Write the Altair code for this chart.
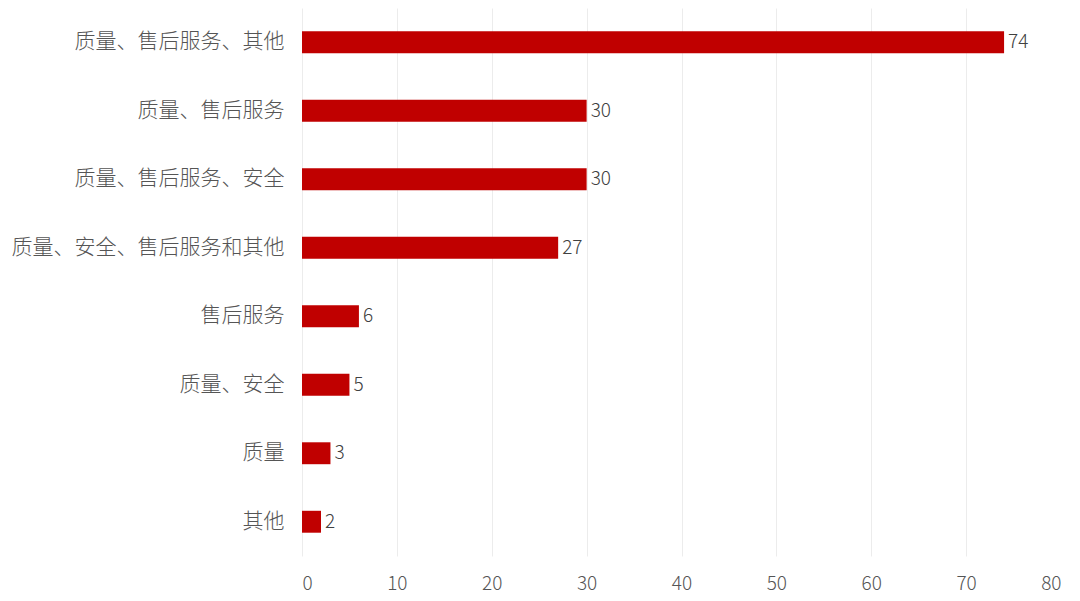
import altair as alt
import pandas as pd

categories = ["质量、售后服务、其他", "质量、售后服务", "质量、售后服务、安全", "质量、安全、售后服务和其他",
              "售后服务", "质量、安全", "质量", "其他"]
values = [74, 30, 30, 27, 6, 5, 3, 2]
x_ticks = [0, 10, 20, 30, 40, 50, 60, 70, 80]

df = pd.DataFrame({"cat": categories, "val": values})
FONT = "Noto Sans CJK SC"

y_enc = alt.Y("cat:N", sort=categories, title=None,
              scale=alt.Scale(paddingInner=0.68, paddingOuter=0.34),
              axis=alt.Axis(labelFont=FONT, labelFontSize=21, labelFontWeight=300, labelColor="#555555",
                            labelPadding=18, ticks=False, domain=False, grid=False,
                            labelLimit=400))
x_enc = alt.X("val:Q", title=None,
              scale=alt.Scale(domain=[0, 80], nice=False),
              axis=alt.Axis(values=x_ticks, labelFont=FONT, labelFontSize=19, labelFontWeight=300,
                            labelColor="#555555",
                            ticks=False, domain=False, grid=True, gridColor="#ececec",
                            labelPadding=18))

bars = alt.Chart(df).mark_bar(color="#C00000").encode(x=x_enc, y=y_enc)
labels = alt.Chart(df).mark_text(align="left", dx=4, font=FONT, fontSize=19, fontWeight=300,
                                 color="#404040").encode(
    x="val:Q", y=alt.Y("cat:N", sort=categories), text="val:Q")

chart = (bars + labels).properties(
    width=759, height=548,
    autosize=alt.AutoSizeParams(type="none"),
    padding={"left": 294, "top": 0, "right": 0, "bottom": 37},
).configure(background="white").configure_view(strokeWidth=0, stroke=None)

chart.save("out.html", embed_options={"renderer": "svg", "actions": False})
